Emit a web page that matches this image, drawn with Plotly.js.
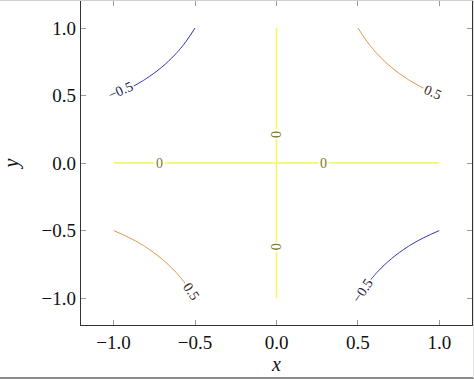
<!DOCTYPE html>
<html>
<head>
<meta charset="utf-8">
<script src="https://cdn.plot.ly/plotly-3.0.1.min.js"></script>
<style>
html,body{margin:0;padding:0;background:#fff;}
#wrap{position:relative;width:474px;height:379px;}
#chart{width:474px;height:379px;}
#frame{position:absolute;left:0;top:0;width:474px;height:379px;box-sizing:border-box;border-top:1px solid #d0d0d0;border-bottom:2px solid #8c8c8c;border-right:1px solid #e4e0ea;pointer-events:none;}
</style>
</head>
<body>
<div id="wrap"><div id="chart"></div><div id="frame"></div></div>
<script>
// grid coordinates (x and y share the same grid)
var gridX = [-1, -0.9, -0.8, -0.7, -0.6, -0.5, -0.01, 0, 0.01, 0.5, 0.6, 0.7, 0.8, 0.9, 1];
var gridY = [-1, -0.9, -0.8, -0.7, -0.6, -0.5, -0.01, 0, 0.01, 0.5, 0.6, 0.7, 0.8, 0.9, 1];
// z values on the grid (rows follow gridY, columns follow gridX)
var zValues = [
  [1, 0.9, 0.8, 0.7, 0.6, 0.5, 0.01, 0, -0.01, -0.5, -0.6, -0.7, -0.8, -0.9, -1],
  [0.9, 0.81, 0.72, 0.63, 0.54, 0.45, 0.009, 0, -0.009, -0.45, -0.54, -0.63, -0.72, -0.81, -0.9],
  [0.8, 0.72, 0.64, 0.56, 0.48, 0.4, 0.008, 0, -0.008, -0.4, -0.48, -0.56, -0.64, -0.72, -0.8],
  [0.7, 0.63, 0.56, 0.49, 0.42, 0.35, 0.007, 0, -0.007, -0.35, -0.42, -0.49, -0.56, -0.63, -0.7],
  [0.6, 0.54, 0.48, 0.42, 0.36, 0.3, 0.006, 0, -0.006, -0.3, -0.36, -0.42, -0.48, -0.54, -0.6],
  [0.5, 0.45, 0.4, 0.35, 0.3, 0.25, 0.005, 0, -0.005, -0.25, -0.3, -0.35, -0.4, -0.45, -0.5],
  [0.01, 0.009, 0.008, 0.007, 0.006, 0.005, 0.0001, 0, -0.0001, -0.005, -0.006, -0.007, -0.008, -0.009, -0.01],
  [0, 0, 0, 0, 0, 0, 0, 0, 0, 0, 0, 0, 0, 0, 0],
  [-0.01, -0.009, -0.008, -0.007, -0.006, -0.005, -0.0001, 0, 0.0001, 0.005, 0.006, 0.007, 0.008, 0.009, 0.01],
  [-0.5, -0.45, -0.4, -0.35, -0.3, -0.25, -0.005, 0, 0.005, 0.25, 0.3, 0.35, 0.4, 0.45, 0.5],
  [-0.6, -0.54, -0.48, -0.42, -0.36, -0.3, -0.006, 0, 0.006, 0.3, 0.36, 0.42, 0.48, 0.54, 0.6],
  [-0.7, -0.63, -0.56, -0.49, -0.42, -0.35, -0.007, 0, 0.007, 0.35, 0.42, 0.49, 0.56, 0.63, 0.7],
  [-0.8, -0.72, -0.64, -0.56, -0.48, -0.4, -0.008, 0, 0.008, 0.4, 0.48, 0.56, 0.64, 0.72, 0.8],
  [-0.9, -0.81, -0.72, -0.63, -0.54, -0.45, -0.009, 0, 0.009, 0.45, 0.54, 0.63, 0.72, 0.81, 0.9],
  [-1, -0.9, -0.8, -0.7, -0.6, -0.5, -0.01, 0, 0.01, 0.5, 0.6, 0.7, 0.8, 0.9, 1]
];
// contour levels and their colours
var levels = [-0.5, 0, 0.5];
var lineColors = ['rgb(50,50,185)', 'rgb(245,245,90)', 'rgb(220,150,70)'];
var labelColors = ['#22224a', '#7a7a2a', '#3a2a1a'];
var tickVals = [-1, -0.5, 0, 0.5, 1];

var serif = 'Liberation Serif, DejaVu Serif, serif';

var traces = levels.map(function (lv, k) {
  return {
    type: 'contour',
    x: gridX, y: gridY, z: zValues,
    autocontour: false,
    contours: {start: lv, end: lv, size: 0.5, coloring: 'none', showlabels: false},
    line: {color: lineColors[k], width: lv === 0 ? 1.5 : 1, smoothing: lv === 0 ? 0 : 1.3},
    showscale: false,
    hoverinfo: 'skip'
  };
});

function levelText(lv) {
  if (lv === 0) return '0';
  return (lv < 0 ? '\u2212' : '') + Math.abs(lv).toFixed(1);
}

// inline contour labels (placement along each line)
var labelPlacement = [
  {k: 0, x: -0.955, y: 0.535, a: -24},
  {k: 0, x: 0.53, y: -0.945, a: -56},
  {k: 2, x: 0.96, y: 0.521, a: 24},
  {k: 2, x: -0.525, y: -0.955, a: 56},
  {k: 1, x: -0.717, y: 0, a: 0},
  {k: 1, x: 0.286, y: 0, a: 0},
  {k: 1, x: 0, y: 0.212, a: -90},
  {k: 1, x: 0, y: -0.621, a: -90}
];
var annotations = labelPlacement.map(function (p) {
  return {
    xref: 'x', yref: 'y', x: p.x, y: p.y,
    text: levelText(levels[p.k]), textangle: p.a,
    showarrow: false, bgcolor: '#ffffff', borderpad: 1,
    font: {family: serif, size: 14, color: labelColors[p.k]}
  };
});

var axisCommon = {
  range: [-1.2, 1.2],
  tickvals: tickVals,
  tickformat: '.1f',
  ticks: 'inside',
  ticklen: 5,
  tickcolor: '#9a9a9a',
  showline: true,
  linecolor: '#333',
  linewidth: 1.3,
  mirror: 'ticks',
  showgrid: false,
  zeroline: false,
  tickfont: {family: serif, size: 19, color: '#111'}
};

var layout = {
  width: 474, height: 379,
  margin: {l: 81, r: 2, t: 1, b: 54},
  paper_bgcolor: '#fff', plot_bgcolor: '#fff',
  showlegend: false,
  annotations: annotations,
  xaxis: Object.assign({}, axisCommon, {
    title: {text: '<i>x</i>', font: {family: serif, size: 20, color: '#111'}, standoff: 5}
  }),
  yaxis: Object.assign({}, axisCommon, {
    title: {text: '<i>y</i>', font: {family: serif, size: 20, color: '#111'}, standoff: 22}
  })
};

Plotly.newPlot('chart', traces, layout, {staticPlot: true, displayModeBar: false});
</script>
</body>
</html>
